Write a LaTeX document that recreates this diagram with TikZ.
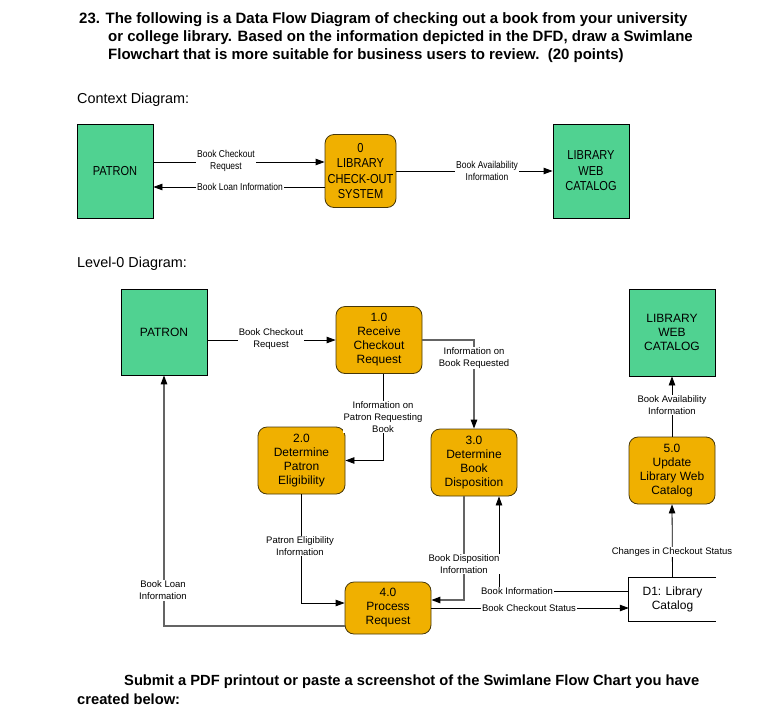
\documentclass[tikz,border=0pt]{standalone}
\usepackage{fontspec}
\setmainfont{Liberation Sans}
\newfontfamily\ctxfont[FakeStretch=0.85]{Liberation Sans}
\usetikzlibrary{arrows.meta,calc}
\definecolor{entgreen}{RGB}{80,210,145}
\definecolor{procorange}{RGB}{240,176,0}
\definecolor{procborder}{RGB}{70,55,10}
\definecolor{flowgray}{RGB}{100,100,100}
\begin{document}
\begin{tikzpicture}[x=1pt,y=-1pt,
  font=\fontsize{12}{14}\selectfont,
  entity/.style={draw=black,line width=0.8pt,fill=entgreen,inner sep=0pt,align=center},
  proc/.style={draw=procborder,line width=0.8pt,fill=procorange,rounded corners=9pt,inner sep=0pt,align=center},
  flow/.style={draw=black,line width=0.8pt,-{Triangle[length=9pt,width=6.5pt,color=black]}},
  gflow/.style={flow,draw=flowgray,line width=1.2pt},
  plain/.style={draw=black,line width=0.8pt},
  lbl/.style={fill=white,inner sep=1pt,align=center,font=\fontsize{9.5}{12}\selectfont},
  clbl/.style={fill=white,inner sep=1pt,align=center,font=\ctxfont\fontsize{10}{12}\selectfont},
  ttl/.style={anchor=west,inner sep=0pt,font=\bfseries\fontsize{15}{17}\selectfont},
  foot/.style={anchor=west,inner sep=0pt,font=\bfseries\fontsize{14.7}{17}\selectfont},
  head/.style={anchor=west,inner sep=0pt,font=\fontsize{14.4}{16}\selectfont}]
\useasboundingbox (0,0) rectangle (765,723);

% title
\node[ttl] (t1) at (79,20) {23. The following is a Data Flow Diagram of checking out a book from your university};
\node[ttl] (t2) at (108,38) {or college library. Based on the information depicted in the DFD, draw a Swimlane};
\node[ttl] (t3) at (108,56) {Flowchart that is more suitable for business users to review.\ \ (20 points)};

\node[head] (h1) at (77,100) {Context Diagram:};

% context diagram
\node[entity,minimum width=76pt,minimum height=94pt,font=\ctxfont\fontsize{13}{15}\selectfont] (cpat) at (115,171) {PATRON};
\node[proc,minimum width=71pt,minimum height=73pt,font=\ctxfont\fontsize{13}{15.5}\selectfont] (c0) at (360.5,171) {0\\LIBRARY\\CHECK-OUT\\SYSTEM};
\node[entity,minimum width=76pt,minimum height=94pt,font=\ctxfont\fontsize{13}{15.5}\selectfont] (ccat) at (591,171) {LIBRARY\\WEB\\CATALOG};

\draw[flow] ($(cpat.east)+(0,-9)$) -- ($(c0.west)+(0,-9)$);
\draw[flow] ($(c0.west)+(0,16)$) -- ($(cpat.east)+(0,16)$);
\draw[flow] (c0.east) -- (ccat.west);
\node[clbl] (cl1) at (226,161) {Book Checkout\\Request};
\node[clbl] (cl2) at (240,187) {Book Loan Information};
\node[clbl] (cl3) at (487,170.5) {Book Availability\\Information};

\node[head] (h2) at (77,264) {Level-0 Diagram:};

% level-0 diagram
\node[entity,minimum width=86pt,minimum height=86pt] (pat) at (164,332) {PATRON};
\node[entity,minimum width=86pt,minimum height=87pt] (cat) at (672,332.5) {LIBRARY\\WEB\\CATALOG};
\node[proc,minimum width=86pt,minimum height=67pt] (p1) at (379,340) {1.0\\Receive\\Checkout\\Request};
\node[proc,minimum width=87pt,minimum height=67pt] (p2) at (301.5,460.5) {2.0\\Determine\\Patron\\Eligibility};
\node[proc,minimum width=86pt,minimum height=67pt] (p3) at (474,462.5) {3.0\\Determine\\Book\\Disposition};
\node[proc,minimum width=86pt,minimum height=52pt] (p4) at (388,608) {4.0\\Process\\Request};
\node[proc,minimum width=86pt,minimum height=67pt] (p5) at (672,470.5) {5.0\\Update\\Library Web\\Catalog};
\node[minimum width=87pt,minimum height=43pt,inner sep=0pt,align=center] (d1) at (672.5,599.5) {D1: Library\\Catalog};
\draw[plain] (d1.north east) -- (d1.north west) -- (d1.south west) -- (d1.south east);

% flows
\draw[flow] ($(pat.east)+(0,8)$) -- (p1.west);
\draw[gflow] (p1.east) -| (p3.north);
\draw[flow] ($(p1.south)+(4,0)$) |- (p2.east);
\draw[flow] (p2.south) |- ($(p4.west)+(0,-5)$);
\draw[gflow] ($(p3.south)+(-10,0)$) |- ($(p4.east)+(0,-8)$);
\draw[gflow] ($(p4.west)+(0,18)$) -| (pat.south);
\draw[flow] ($(d1.west)+(0,-8.5)$) -| ($(p3.south)+(25,0)$);
\draw[flow] (p4.east) -- ($(d1.west)+(0,8.5)$);
\draw[flow] (d1.north) -- (p5.south);
\draw[flow] (p5.north) -- (cat.south);

\node[lbl] (l1) at (271,339) {Book Checkout\\Request};
\node[lbl] (l2) at (474,358) {Information on\\Book Requested};
\node[lbl] (l3) at (383,417) {Information on\\Patron Requesting\\Book};
\node[lbl] (l4) at (300,546) {Patron Eligibility\\Information};
\node[lbl] (l5) at (464,564) {Book Disposition\\Information};
\node[lbl] (l6) at (163,590.5) {Book Loan\\Information};
\node[lbl] (l7) at (517,591) {Book Information};
\node[lbl] (l8) at (529,608) {Book Checkout Status};
\node[lbl] (l9) at (672,552) {Changes in Checkout Status};
\node[lbl] (l10) at (672,405) {Book Availability\\Information};

% footer
\node[foot] (b1) at (124,682) {Submit a PDF printout or paste a screenshot of the Swimlane Flow Chart you have};
\node[foot] (b2) at (77,699) {created below:};
\end{tikzpicture}
\end{document}
